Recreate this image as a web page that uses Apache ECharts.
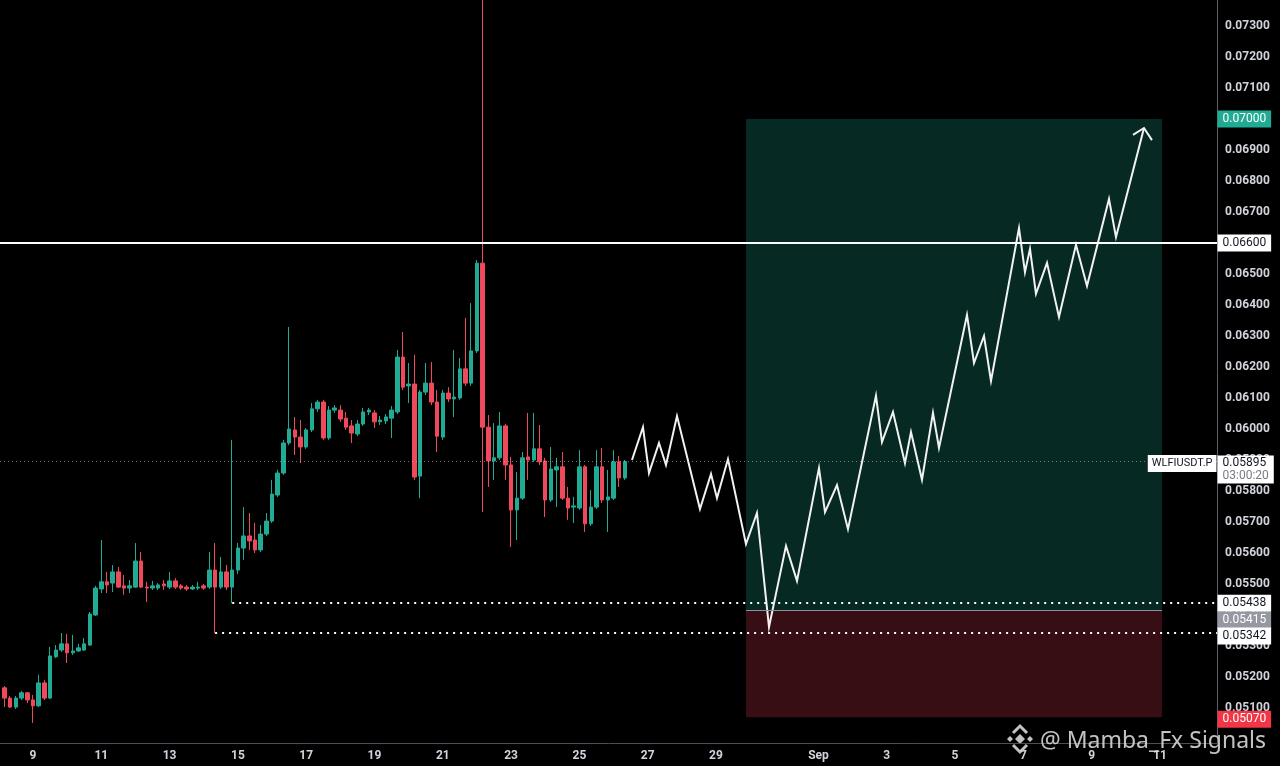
<!DOCTYPE html>
<html><head><meta charset="utf-8">
<script src="https://cdn.jsdelivr.net/npm/echarts@6/dist/echarts.min.js"></script>
<style>html,body{margin:0;padding:0;background:#000;}#c{width:1280px;height:766px;}</style>
</head><body><div id="c"></div>
<script>
// ---- data ----
const T0 = 8 + 4/24;          // first candle open: Aug 8 04:00 (day number, Sep 1 = 32)
const STEP = 1/6;             // 4h candles
const opens = [
0.05165,0.05132,0.05103,0.05132,0.05149,0.05126,0.05107,0.05181,0.05132,0.05265,
0.05287,0.05307,0.05278,0.05284,0.05287,0.05303,0.05400,0.05484,0.05507,0.05503,
0.05539,0.05494,0.05487,0.05490,0.05574,0.05490,0.05487,0.05487,0.05500,0.05490,
0.05510,0.05494,0.05490,0.05484,0.05487,0.05494,0.05490,0.05545,0.05490,0.05539,
0.05490,0.05545,0.05616,0.05655,0.05642,0.05610,0.05661,0.05703,0.05787,0.05858,
0.05955,0.05997,0.05974,0.05942,0.05997,0.06065,0.06087,0.05971,0.06061,0.06061,
0.06035,0.06010,0.05984,0.06016,0.06055,0.06052,0.06023,0.06026,0.06035,0.06055,
0.06232,0.06139,0.06145,0.05848,0.06119,0.06148,0.06087,0.05974,0.06116,0.06097,
0.06100,0.06194,0.06148,0.06252,0.06535,0.06006,0.05897,0.05907,0.06010,0.05884,
0.05739,0.05777,0.05910,0.05900,0.05936,0.05897,0.05771,0.05868,0.05878,0.05777,
0.05748,0.05745,0.05878,0.05694,0.05748,0.05878,0.05771,0.05777,0.05894,0.05842];
const closes = [
0.05132,0.05103,0.05132,0.05149,0.05126,0.05107,0.05181,0.05132,0.05268,0.05287,
0.05307,0.05278,0.05284,0.05294,0.05307,0.05403,0.05487,0.05507,0.05497,0.05539,
0.05490,0.05487,0.05494,0.05574,0.05490,0.05487,0.05494,0.05497,0.05494,0.05510,
0.05490,0.05487,0.05484,0.05490,0.05490,0.05487,0.05545,0.05490,0.05539,0.05490,
0.05545,0.05616,0.05655,0.05639,0.05610,0.05661,0.05703,0.05790,0.05858,0.05955,
0.06000,0.05974,0.05942,0.05997,0.06065,0.06087,0.05971,0.06061,0.06068,0.06032,
0.06006,0.05987,0.06016,0.06055,0.06061,0.06023,0.06029,0.06039,0.06061,0.06232,
0.06135,0.06145,0.05845,0.06119,0.06148,0.06087,0.05977,0.06116,0.06097,0.06103,
0.06194,0.06148,0.06252,0.06535,0.06006,0.05897,0.05907,0.06010,0.05884,0.05739,
0.05777,0.05907,0.05900,0.05936,0.05894,0.05771,0.05871,0.05878,0.05777,0.05745,
0.05752,0.05878,0.05694,0.05748,0.05878,0.05771,0.05781,0.05894,0.05842,0.05895];
const lows = [
0.05103,0.05100,0.05097,0.05126,0.05116,0.05052,0.05103,0.05126,0.05129,0.05261,
0.05281,0.05245,0.05271,0.05281,0.05284,0.05300,0.05397,0.05471,0.05471,0.05474,
0.05487,0.05465,0.05471,0.05487,0.05487,0.05442,0.05481,0.05481,0.05481,0.05484,
0.05484,0.05481,0.05478,0.05481,0.05481,0.05481,0.05484,0.05342,0.05484,0.05481,
0.05438,0.05532,0.05578,0.05610,0.05600,0.05603,0.05655,0.05697,0.05781,0.05852,
0.05948,0.05916,0.05890,0.05936,0.05990,0.06055,0.05965,0.05965,0.06052,0.06023,
0.05997,0.05955,0.05977,0.06010,0.06045,0.06003,0.06013,0.06016,0.05971,0.06048,
0.06126,0.06084,0.05836,0.05777,0.06110,0.06077,0.05926,0.05965,0.06087,0.06039,
0.06094,0.06139,0.06139,0.06245,0.05732,0.05813,0.05836,0.05900,0.05836,0.05619,
0.05642,0.05771,0.05836,0.05894,0.05884,0.05716,0.05765,0.05748,0.05771,0.05707,
0.05697,0.05739,0.05668,0.05687,0.05742,0.05761,0.05668,0.05771,0.05813,0.05836];
const highs = [
0.05171,0.05139,0.05139,0.05155,0.05152,0.05142,0.05207,0.05190,0.05297,0.05303,
0.05342,0.05339,0.05336,0.05307,0.05326,0.05410,0.05494,0.05642,0.05539,0.05561,
0.05555,0.05529,0.05513,0.05632,0.05603,0.05507,0.05510,0.05503,0.05513,0.05539,
0.05519,0.05500,0.05497,0.05497,0.05507,0.05500,0.05603,0.05632,0.05587,0.05561,
0.05965,0.05632,0.05748,0.05729,0.05697,0.05690,0.05729,0.05836,0.05868,0.05965,
0.06329,0.06039,0.06029,0.06003,0.06084,0.06094,0.06094,0.06074,0.06077,0.06077,
0.06055,0.06029,0.06029,0.06068,0.06068,0.06061,0.06042,0.06048,0.06074,0.06255,
0.06313,0.06213,0.06239,0.06126,0.06213,0.06216,0.06126,0.06126,0.06135,0.06255,
0.06229,0.06358,0.06406,0.06545,0.07600,0.06045,0.06019,0.06055,0.06016,0.05910,
0.05861,0.05926,0.06052,0.06052,0.06013,0.05907,0.05942,0.05907,0.05926,0.05813,
0.05781,0.05932,0.05884,0.05803,0.05932,0.05939,0.05868,0.05932,0.05913,0.05900];

// projected zigzag path (day number, price)
const pathDays = [26.540,26.862,27.038,27.331,27.536,27.858,28.531,28.854,29.029,29.351,29.878,30.200,30.552,31.050,31.372,32.016,32.192,32.543,32.865,33.685,33.861,34.183,34.534,34.710,35.032,35.354,35.530,36.350,36.555,36.848,37.053,37.873,38.048,38.195,38.370,38.693,39.044,39.542,39.864,40.508,40.713,41.533];
const pathPrices = [0.05900,0.06006,0.05858,0.05955,0.05884,0.06042,0.05742,0.05855,0.05777,0.05903,0.05629,0.05729,0.05361,0.05623,0.05510,0.05874,0.05732,0.05819,0.05677,0.06107,0.05958,0.06055,0.05890,0.05990,0.05836,0.06052,0.05939,0.06368,0.06213,0.06300,0.06155,0.06648,0.06506,0.06581,0.06436,0.06536,0.06361,0.06594,0.06461,0.06742,0.06619,0.06971];
const arrowDays = [41.211, 41.533, 41.767];
const arrowPrices = [0.06949, 0.06971, 0.06932];

// levels
const TARGET = 0.07000, RESIST = 0.06600, LAST = 0.05895, LEVEL_A = 0.05438, ENTRY = 0.05415, LEVEL_B = 0.05342, STOP = 0.05070;
const LEVEL_A_START = T0 + 40*STEP, LEVEL_B_START = T0 + 37*STEP;
const POS_START = 29.878, POS_END = 42.06;
const LAST_TIMER = '03:00:20';
const SYMBOL = 'WLFIUSDT.P';

// axes ticks
const xTicks = [9,11,13,15,17,19,21,23,25,27,29,32,34,36,38,40,42];
const xTickLabels = ['9','11','13','15','17','19','21','23','25','27','29','Sep','3','5','7','9','11'];
const yTicks = [0.051,0.052,0.053,0.054,0.055,0.056,0.057,0.058,0.059,0.060,0.061,0.062,0.063,0.064,0.065,0.066,0.067,0.068,0.069,0.070,0.071,0.072,0.073];

const X_MIN = 8.034, X_MAX = 43.671, Y_MIN = 0.049871, Y_MAX = 0.073839;
const UP = '#22ab94', DOWN = '#ef4a5b';

const candleData = opens.map((o, i) => [T0 + i*STEP, o, closes[i], lows[i], highs[i]]);
const pathData = pathDays.map((d, i) => [d, pathPrices[i]]);
const arrowData = arrowDays.map((d, i) => [d, arrowPrices[i]]);

function box(value, bg, fg, dy) {
  return {
    coord: [X_MAX, value], value: value,
    label: { formatter: value.toFixed(5), backgroundColor: bg, color: fg, offset: [0, dy || 0] }
  };
}

const chart = echarts.init(document.getElementById('c'));
chart.setOption({
  backgroundColor: '#000000',
  animation: false,
  grid: { left: 0, right: 63, top: 0, bottom: 23 },
  xAxis: {
    type: 'value', min: X_MIN, max: X_MAX,
    axisLine: { show: true, lineStyle: { color: '#4a4e58', width: 1 } },
    axisTick: { show: false }, splitLine: { show: false },
    axisLabel: {
      customValues: xTicks,
      formatter: v => xTickLabels[xTicks.indexOf(Math.round(v))],
      color: '#d1d4dc', fontSize: 12, fontWeight: 'bold', fontFamily: 'Roboto', margin: 7
    }
  },
  yAxis: {
    type: 'value', position: 'right', min: Y_MIN, max: Y_MAX, scale: true,
    axisLine: { show: true, lineStyle: { color: '#5d606b', width: 1 } },
    axisTick: { show: false }, splitLine: { show: false },
    axisLabel: {
      customValues: yTicks,
      formatter: v => v.toFixed(5),
      color: '#d1d4dc', fontSize: 12, fontWeight: 'bold', fontFamily: 'Roboto', margin: 8
    }
  },
  series: [
    {
      type: 'candlestick', data: candleData, barWidth: 4, clip: true, z: 3,
      itemStyle: { color: UP, color0: DOWN, borderColor: UP, borderColor0: DOWN, borderWidth: 1 }
    },
    {
      type: 'line', data: pathData, showSymbol: false, z: 4, silent: true,
      lineStyle: { color: '#f2f2f2', width: 2, join: 'miter' },
      markArea: {
        silent: true,
        data: [
          [{ coord: [POS_START, TARGET], itemStyle: { color: '#072924' } }, { coord: [POS_END, ENTRY] }],
          [{ coord: [POS_START, ENTRY], itemStyle: { color: '#370e13' } }, { coord: [POS_END, STOP] }]
        ]
      },
      markLine: {
        silent: true, symbol: ['none', 'none'], label: { show: false }, precision: 6,
        data: [
          { yAxis: RESIST, lineStyle: { color: '#ffffff', width: 2, type: 'solid' } },
          { yAxis: LAST, lineStyle: { color: 'rgba(200,200,200,0.55)', width: 1, type: [1, 3] } },
          [{ coord: [LEVEL_A_START, LEVEL_A], lineStyle: { color: '#ffffff', width: 2, type: [2, 5] } }, { coord: [X_MAX, LEVEL_A] }],
          [{ coord: [LEVEL_B_START, LEVEL_B], lineStyle: { color: '#ffffff', width: 2, type: [2, 5] } }, { coord: [X_MAX, LEVEL_B] }],
          [{ coord: [POS_START, ENTRY], lineStyle: { color: '#8d919a', width: 1, type: 'solid' } }, { coord: [POS_END, ENTRY] }]
        ]
      },
      markPoint: {
        silent: true, symbol: 'rect', symbolSize: [1, 1],
        itemStyle: { color: 'rgba(0,0,0,0)' },
        label: { show: true, position: 'right', distance: 0, fontSize: 12, fontFamily: 'Roboto', padding: [2, 5, 2, 5], lineHeight: 13 },
        data: [
          box(TARGET, '#22ab94', '#ffffff', 0),
          box(RESIST, '#ffffff', '#131722', 0),
          box(LEVEL_A, '#ffffff', '#131722', 0),
          box(ENTRY, '#9598a1', '#ffffff', 10),
          box(LEVEL_B, '#ffffff', '#131722', 3),
          box(STOP, '#f23645', '#ffffff', 2),
          {
            coord: [X_MAX, LAST], value: LAST,
            label: {
              formatter: '{a|' + LAST.toFixed(5) + '}\n{b|' + LAST_TIMER + '}',
              backgroundColor: '#ffffff', padding: [1, 5, 1, 5], offset: [0, 8],
              rich: { a: { color: '#131722', fontSize: 12, lineHeight: 13, fontFamily: 'Roboto' },
                      b: { color: '#787b86', fontSize: 12, lineHeight: 13, fontFamily: 'Roboto' } }
            }
          },
          {
            coord: [X_MAX, LAST], value: LAST,
            label: { formatter: SYMBOL, position: 'left', backgroundColor: '#ffffff', color: '#131722', fontSize: 11, padding: [2, 4, 2, 4], offset: [0, 2] }
          }
        ]
      }
    },
    {
      type: 'line', data: arrowData, showSymbol: false, z: 4, silent: true,
      lineStyle: { color: '#f2f2f2', width: 2, join: 'miter' }
    }
  ],
  graphic: [
    { type: 'text', z: 100, x: 1040, y: 741, style: { text: '@ Mamba_Fx Signals', fill: 'rgba(228,228,228,0.85)', font: '23px "Noto Sans"', verticalAlign: 'middle' } },
    { type: 'group', z: 100, children: [
      { type: 'polygon', shape: { points: [[1020,734],[1025,739],[1020,744],[1015,739]] }, style: { fill: 'rgba(228,228,228,0.85)' } },
      { type: 'polygon', shape: { points: [[1010,736],[1013,739],[1010,742],[1007,739]] }, style: { fill: 'rgba(228,228,228,0.85)' } },
      { type: 'polygon', shape: { points: [[1030,736],[1033,739],[1030,742],[1027,739]] }, style: { fill: 'rgba(228,228,228,0.85)' } },
      { type: 'polyline', shape: { points: [[1013,733],[1020,726],[1027,733]] }, style: { stroke: 'rgba(228,228,228,0.85)', lineWidth: 3, fill: null } },
      { type: 'polyline', shape: { points: [[1013,745],[1020,752],[1027,745]] }, style: { stroke: 'rgba(228,228,228,0.85)', lineWidth: 3, fill: null } }
    ] }
  ]
});
</script></body></html>
